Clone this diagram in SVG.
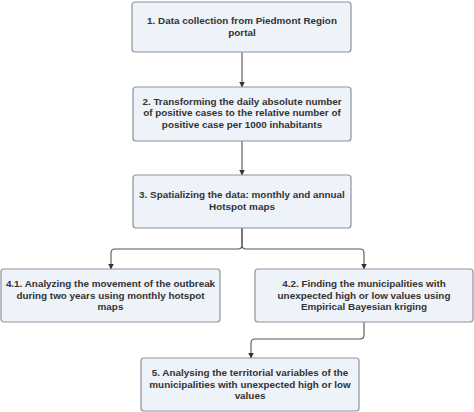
<svg xmlns="http://www.w3.org/2000/svg" width="474" height="412" viewBox="0 0 474 412">
<defs>
<marker id="ah" viewBox="0 0 10 10" refX="9" refY="5" markerWidth="5" markerHeight="5" orient="auto"><path d="M0,0 L10,5 L0,10 z" fill="#333"/></marker>
<style>
.box{fill:#eef2f9;stroke:#8e939c;stroke-width:1.2}
.t{font-family:"Liberation Sans",Arial,sans-serif;font-weight:bold;font-size:9.9px;fill:#333;text-anchor:middle}
.c{fill:none;stroke:#555;stroke-width:1.1;marker-end:url(#ah)}
</style>
</defs>
<rect width="474" height="412" fill="#fff"/>
<g id="connectors">
<path class="c" d="M242,52 V87"/>
<path class="c" d="M242,141 V175"/>
<path class="c" d="M242,228 V245 Q242,249 238,249 H115 Q111,249 111,253 V269"/>
<path class="c" d="M242,228 V245 Q242,249 246,249 H360 Q364,249 364,253 V269"/>
<path class="c" d="M364,322 V335 Q364,339 360,339 H255 Q251,339 251,343 V358"/>
</g>
<g id="n1"><rect class="box" x="132" y="2" width="219" height="50" rx="3"/>
<text class="t" x="242" y="23.5">1. Data collection from Piedmont Region</text>
<text class="t" x="242" y="35.5">portal</text></g>
<g id="n2"><rect class="box" x="133" y="87" width="218" height="54" rx="3"/>
<text class="t" x="242" y="104.5">2. Transforming the daily absolute number</text>
<text class="t" x="242" y="116">of positive cases to the relative number of</text>
<text class="t" x="242" y="127.5">positive case per 1000 inhabitants</text></g>
<g id="n3"><rect class="box" x="133" y="175" width="218" height="53" rx="3"/>
<text class="t" x="242" y="198">3. Spatializing the data: monthly and annual</text>
<text class="t" x="242" y="210">Hotspot maps</text></g>
<g id="n41"><rect class="box" x="1" y="269" width="219" height="53" rx="3"/>
<text class="t" x="110.5" y="287">4.1. Analyzing the movement of the outbreak</text>
<text class="t" x="110.5" y="298.5">during two years using monthly hotspot</text>
<text class="t" x="110.5" y="310">maps</text></g>
<g id="n42"><rect class="box" x="255" y="269" width="218" height="53" rx="3"/>
<text class="t" x="364" y="287">4.2. Finding the municipalities with</text>
<text class="t" x="364" y="298.5">unexpected high or low values using</text>
<text class="t" x="364" y="310">Empirical Bayesian kriging</text></g>
<g id="n5"><rect class="box" x="141" y="358" width="218" height="53" rx="3"/>
<text class="t" x="250" y="376">5. Analysing the territorial variables of the</text>
<text class="t" x="250" y="387.5">municipalities with unexpected high or low</text>
<text class="t" x="250" y="399">values</text></g>
</svg>
